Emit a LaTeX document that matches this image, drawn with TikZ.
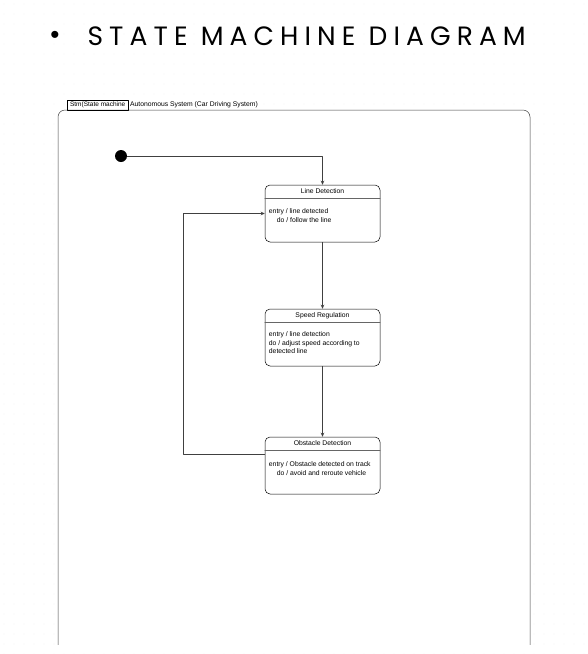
\documentclass[tikz,border=0pt]{standalone}
\usepackage{fontspec}
\setmainfont{Liberation Sans}
\newfontfamily\titlefont[LetterSpace=23]{Poppins}
\usetikzlibrary{arrows.meta}
\begin{document}
\begin{tikzpicture}[x=1pt, y=-1pt, font=\fontsize{6.8}{8.4}\selectfont, line join=round, line cap=round, >={Stealth[length=4pt,width=3.5pt]},
	statebox/.style={draw, rounded corners=5pt, minimum width=115pt, minimum height=57pt, inner sep=0pt, line width=0.5pt},
	flow/.style={->, draw=black!75, line width=0.5pt}]
	\def\bw{587} \def\bh{654}
	\useasboundingbox (0,0) rectangle (\bw,\bh);
	\fill[white] (0,0) rectangle (\bw,\bh);
	% faint dot grid
	\foreach \i in {0,...,58} {
		\foreach \j in {0,...,65} {
			\fill[black!10] (\i*10+4,\j*10+4) circle (0.45pt);
		}
	}
	% title
	\node (bullet) at (55,37) {\fontsize{26}{30}\selectfont\textbullet};
	\node[anchor=west] (title) at (84,36) {\titlefont\fontsize{26.5}{30}\selectfont STATE MACHINE DIAGRAM};
	% frame
	\begin{scope}
		\clip (40,95) rectangle (550,644);
		\draw[fill=white, draw=black!75, line width=0.5pt, rounded corners=7pt] (58,110) rectangle (530,652);
	\end{scope}
	\node[draw, anchor=south west, minimum width=61pt, minimum height=10pt, inner sep=0.5pt, font=\fontsize{6.5}{7}\selectfont] (tab) at (67,110) {Stm(State machine};
	\node[anchor=west, inner sep=1.5pt, font=\fontsize{6.8}{7}\selectfont] (frametitle) at (tab.east) {Autonomous System (Car Driving System)};
	% states
	\node[circle, fill=black, minimum size=12pt, inner sep=0pt] (init) at (121,156) {};
	\node[statebox] (ld) at (322.5,213.5) {};
	\node[statebox] (sr) at (322.5,337.5) {};
	\node[statebox] (od) at (322.5,465.5) {};
	\foreach \s/\t in {ld/Line Detection, sr/Speed Regulation, od/Obstacle Detection} {
		\node (\s title) at ([yshift=-6.5pt]\s.north) {\t};
		\draw[black!60, line width=0.3pt] ([yshift=-13pt]\s.north west) -- ([yshift=-13pt]\s.north east);
	}
	\node[anchor=north west, align=left, inner sep=0pt] (ldtext) at ([xshift=4pt,yshift=-24pt]ld.north west) {entry / line detected\\\hspace{8pt}do / follow the line};
	\node[anchor=north west, align=left, inner sep=0pt] (srtext) at ([xshift=4pt,yshift=-23pt]sr.north west) {entry / line detection\\do / adjust speed according to\\detected line};
	\node[anchor=north west, align=left, inner sep=0pt] (odtext) at ([xshift=4pt,yshift=-25pt]od.north west) {entry / Obstacle detected on track\\\hspace{8pt}do / avoid and reroute vehicle};
	% transitions
	\draw[flow] (init.east) -| (ld.north);
	\draw[flow] (ld.south) -- (sr.north);
	\draw[flow] (sr.south) -- (od.north);
	\coordinate (back) at (183,454);
	\draw[flow] (od.west |- back) -- (back) |- (ld.west);
\end{tikzpicture}
\end{document}
